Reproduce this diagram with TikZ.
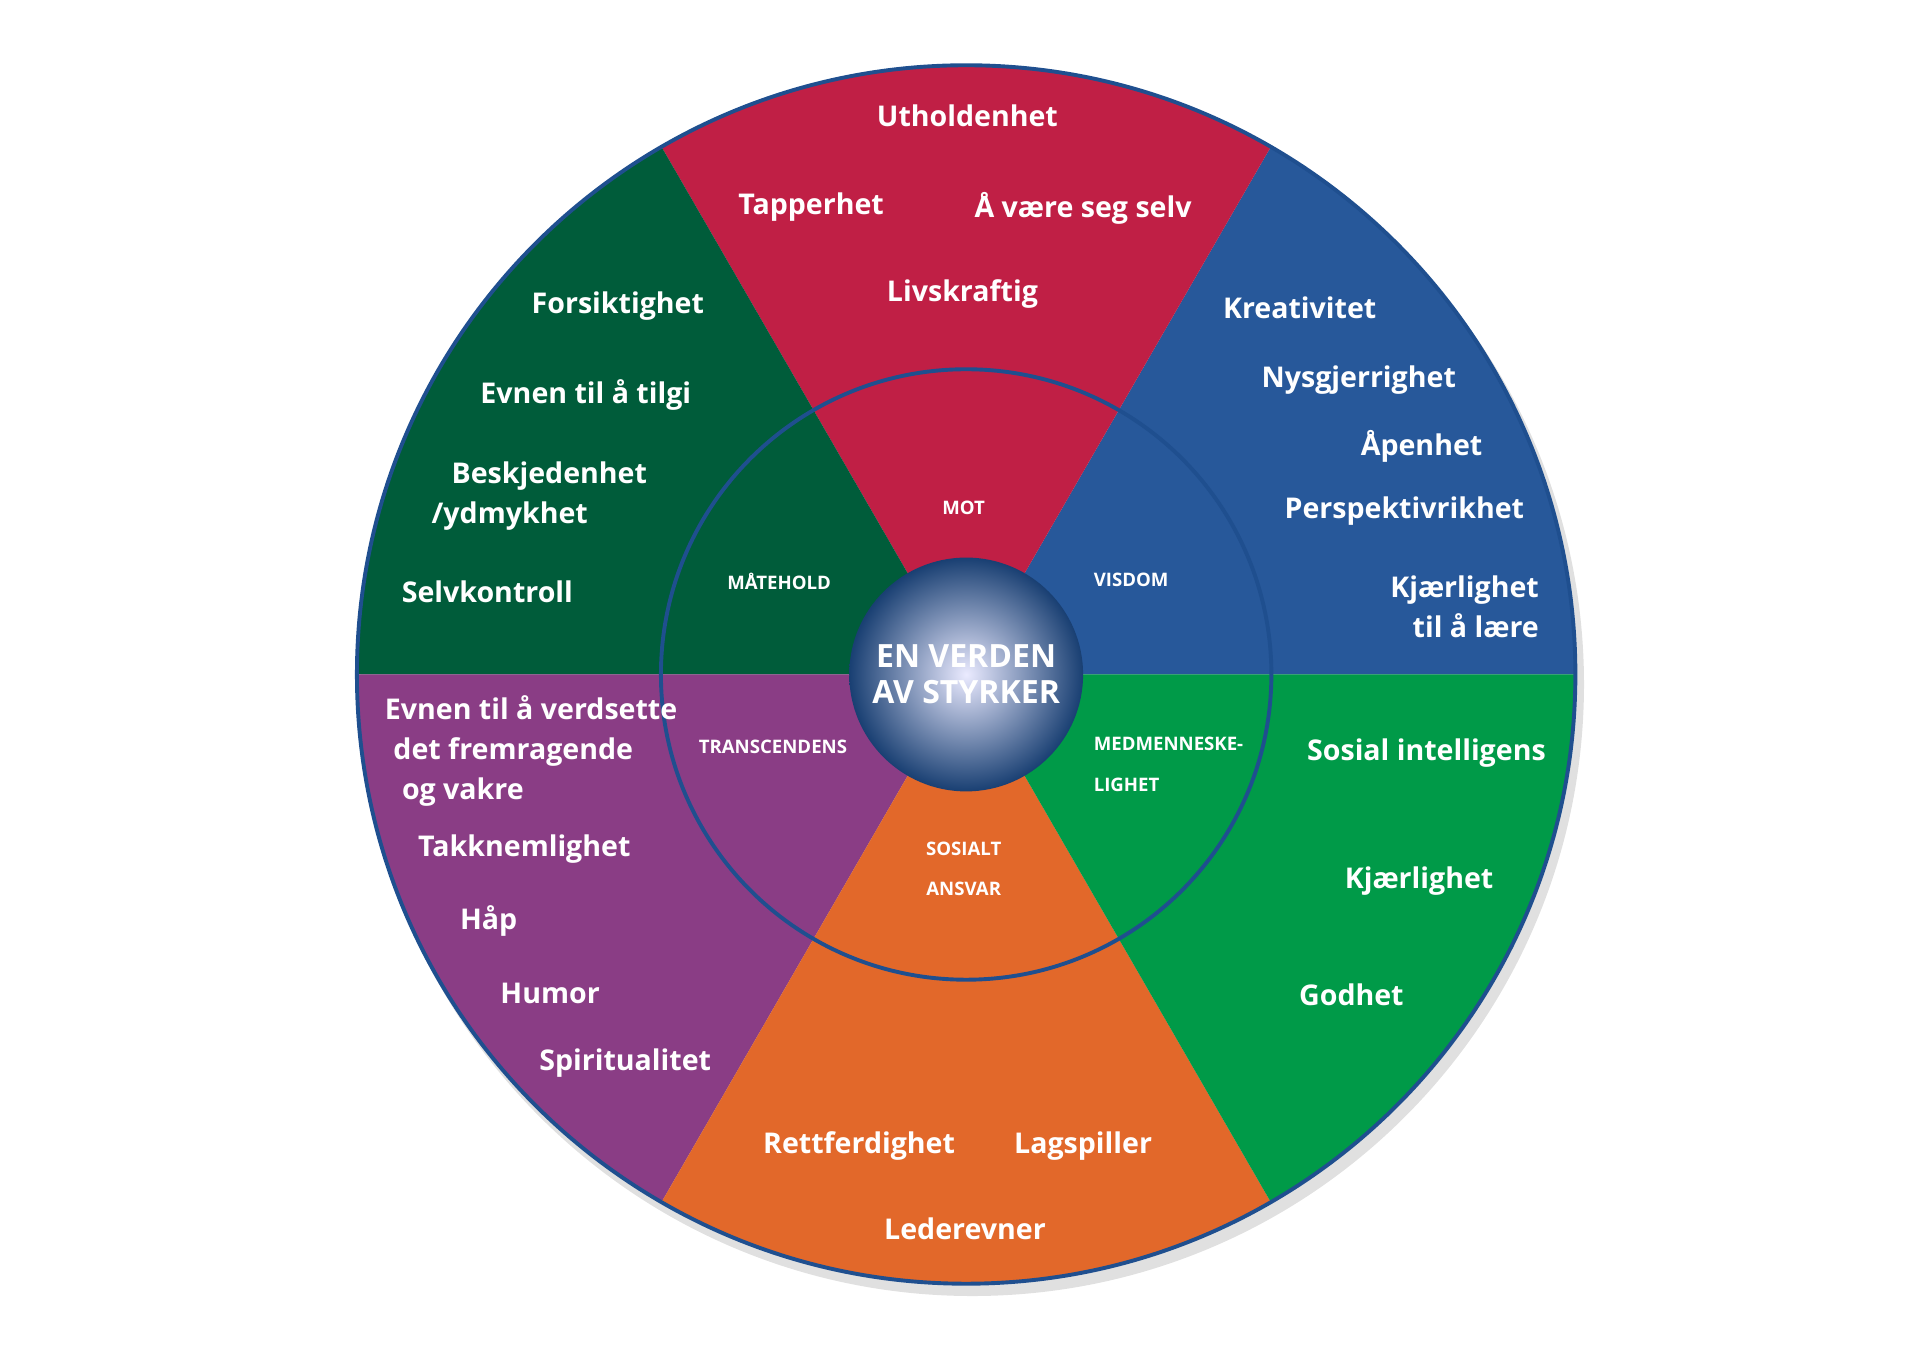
\documentclass[tikz,border=0pt]{standalone}
\usepackage{fontspec}
\setmainfont{Open Sans}
\definecolor{motred}{HTML}{C01F45}
\definecolor{visblue}{HTML}{27589A}
\definecolor{medgreen}{HTML}{009A48}
\definecolor{ansorange}{HTML}{E2682A}
\definecolor{trapurple}{HTML}{8A3D85}
\definecolor{matgreen}{HTML}{005C3A}
\definecolor{rimblue}{HTML}{1F4F8F}
\tikzset{
  strength/.style={text=white, font=\bfseries\fontsize{6.6}{9.2}\selectfont, inner sep=0pt},
  virtue/.style={text=white, font=\bfseries\fontsize{4.3}{9.4}\selectfont, inner sep=0pt},
}
\begin{document}
\begin{tikzpicture}[x=0.01cm, y=-0.01cm]
        \useasboundingbox (0,0) rectangle (1560,1102);
        \coordinate (c) at (785,548);

        % Sectors
        \fill[black!12] (790,556) circle[radius=497];
        \foreach \a/\col in {-60/visblue, -120/motred, -180/matgreen, 120/trapurple, 60/ansorange, 0/medgreen}
            \fill[\col] (c) -- ++(\a:495) arc[start angle=\a, end angle=\a+60, radius=495] -- cycle;
        \draw[rimblue, line width=0.9pt] (c) circle[radius=495];
        \draw[rimblue, line width=0.9pt] (c) circle[radius=248];
        \shade[inner color=blue!8!white, outer color=rimblue!80!black] (c) circle[radius=95];

        % Nodes
        \node[text=white, font=\bfseries\fontsize{7.4}{8.4}\selectfont, align=center] at (c) (world) {EN VERDEN\\AV STYRKER};

        \node[virtue] at (783,413) (mot) {MOT};
        \node[virtue] at (633,472) (matehold) {MÅTEHOLD};
        \node[virtue] at (919,471) (visdom) {VISDOM};
        \node[virtue] at (628,607) (transcendens) {TRANSCENDENS};
        \node[virtue, align=left, anchor=west] at (888,621) (medmenneske) {MEDMENNESKE-\\LIGHET};
        \node[virtue, align=center] at (783,706) (ansvar) {SOSIALT\\ANSVAR};

        \node[strength] at (786,94) (utholdenhet) {Utholdenhet};
        \node[strength] at (659,168) (tapperhet) {Tapperhet};
        \node[strength] at (880,169) (seg) {Å være seg selv};
        \node[strength] at (782,239) (livskraftig) {Livskraftig};

        \node[strength] at (502,249) (forsiktighet) {Forsiktighet};
        \node[strength] at (476,321) (tilgi) {Evnen til å tilgi};
        \node[strength, align=left, anchor=west] at (350,403) (beskjedenhet) {\hspace{0.7em}Beskjedenhet\\/ydmykhet};
        \node[strength] at (396,481) (selvkontroll) {Selvkontroll};

        \node[strength] at (1056,250) (kreativitet) {Kreativitet};
        \node[strength] at (1104,309) (nysgjerrighet) {Nysgjerrighet};
        \node[strength] at (1155,363) (apenhet) {Åpenhet};
        \node[strength] at (1141,415) (perspektiv) {Perspektivrikhet};
        \node[strength, align=right, anchor=east] at (1251,493) (laere) {Kjærlighet\hspace{0.5em}\\til å lære};

        \node[strength] at (1159,612) (sosial) {Sosial intelligens};
        \node[strength] at (1153,716) (kjaerlighet) {Kjærlighet};
        \node[strength] at (1098,808) (godhet) {Godhet};

        \node[strength] at (698,931) (rettferdighet) {Rettferdighet};
        \node[strength] at (880,931) (lagspiller) {Lagspiller};
        \node[strength] at (784,998) (lederevner) {Lederevner};

        \node[strength, align=left, anchor=west] at (312,610) (verdsette) {Evnen til å verdsette\\\hspace{0.3em}det fremragende\\\hspace{0.6em}og vakre};
        \node[strength] at (426,690) (takknemlighet) {Takknemlighet};
        \node[strength] at (397,748) (hap) {Håp};
        \node[strength] at (447,807) (humor) {Humor};
        \node[strength] at (508,864) (spiritualitet) {Spiritualitet};

    \end{tikzpicture}
\end{document}
